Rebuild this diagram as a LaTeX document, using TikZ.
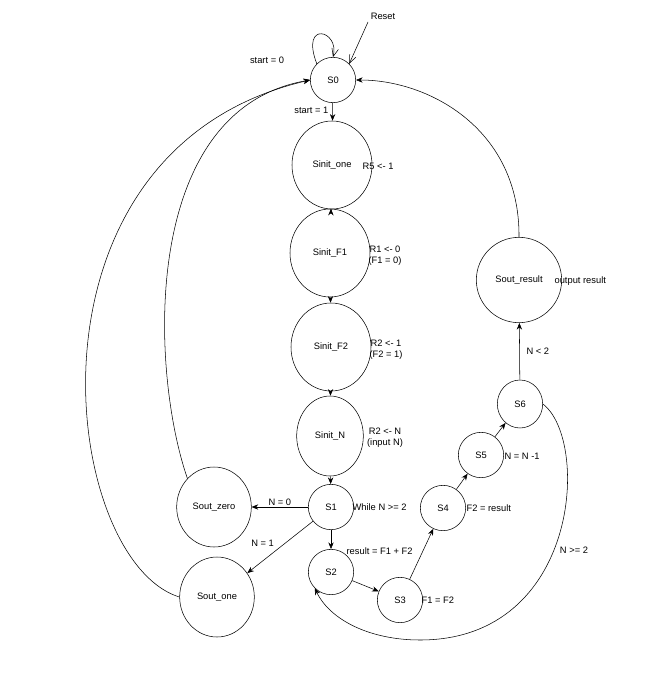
\documentclass[tikz,border=0pt]{standalone}
\usepackage{fontspec}
\setmainfont{Liberation Sans}
\usetikzlibrary{arrows.meta,shapes.geometric}
\begin{document}
\begin{tikzpicture}[x=0.75pt,y=-0.75pt,
  st/.style={draw,ellipse,minimum width=#1,minimum height=34,inner sep=0pt},
  st/.default=34,
  big/.style={draw,ellipse,minimum width=60,minimum height=66,inner sep=0pt},
  lab/.style={inner sep=1pt,align=center},
  every node/.append style={font=\fontsize{7}{8.5}\selectfont},
  ar/.style={-{Stealth[length=5pt,width=4pt]}},
  oar/.style={-{Straight Barb[open,length=6pt,width=5pt]}}]
\useasboundingbox (0,0) rectangle (663,675);
\node[st] (s0) at (333,80) {S0};
\node[big] (i1) at (332,165) {Sinit\_one};
\node[big] (i2) at (330,253) {Sinit\_F1};
\node[big] (i3) at (331,347) {Sinit\_F2};
\node[big,minimum width=50,minimum height=60] (i4) at (330,436) {Sinit\_N};
\node[st] (s1) at (331,507) {S1};
\node[big,minimum width=56,minimum height=60] (oz) at (214,507) {Sout\_zero};
\node[big,minimum width=56,minimum height=60] (oo) at (217,597) {Sout\_one};
\node[st] (s2) at (331,572) {S2};
\node[st] (s3) at (400,600) {S3};
\node[st] (s4) at (443,508) {S4};
\node[st] (s5) at (481,455) {S5};
\node[st,minimum height=36] (s6) at (520,404) {S6};
\node[big,minimum width=64,minimum height=64] (or) at (519,280) {Sout\_result};
\coordinate (rs) at (368,22);
\node[lab] (treset) at (383,16) {Reset};
\draw[oar] (rs) -- (s0.north east);
\draw[oar] (s0.north west) .. controls (300,20) and (340,30) .. (s0.north);
\node[lab] (t0) at (267,60) {start = 0};
\draw[ar] (s0) -- (i1) node[lab,pos=0.4,left=2pt] {start = 1};
\draw[ar] (i1) -- (i2);
\draw[ar] (i2) -- (i3);
\draw[ar] (i3) -- (i4);
\draw[ar] (i4) -- (s1);
\draw[ar] (s1) -- (s2);
\draw[ar] (s1) -- (oz) node[lab,midway,above] {N = 0};
\draw[ar] (s1) -- (oo) node[lab,pos=0.55,above left=1pt] {N = 1};
\draw[ar] (s2) -- (s3);
\draw[ar] (s3) -- (s4);
\draw[ar] (s4) -- (s5);
\draw[ar] (s5) -- (s6);
\draw[ar] (s6) -- (or) node[lab,midway,right=4pt] {N < 2};
\draw[ar] (oz.north west) .. controls (150,370) and (140,110) .. (s0.west);
\draw[ar] (oo.west) .. controls (60,560) and (10,150) .. (s0.west);
\draw[ar] (or.north) .. controls (520,130) and (430,80) .. (s0.east);
\draw[ar] (s6.east) .. controls (590,440) and (580,640) .. (420,640) .. controls (370,640) and (330,620) .. (s2.south west);
\node[lab,anchor=west] (a1) at (361,166) {R5 <- 1};
\node[lab] (a2) at (385,256) {R1 <- 0\\(F1 = 0)};
\node[lab] (a3) at (386,350) {R2 <- 1\\(F2 = 1)};
\node[lab] (a4) at (385,438) {R2 <- N\\(input N)};
\node[lab,anchor=west] (a5) at (351,507) {While N >= 2};
\node[lab,anchor=west] (a6) at (345,551) {result = F1 + F2};
\node[lab,anchor=west] (a7) at (420,600) {F1 = F2};
\node[lab,anchor=west] (a8) at (465,508) {F2 = result};
\node[lab,anchor=west] (a9) at (503,456) {N = N -1};
\node[lab,anchor=west] (a10) at (553,281) {output result};
\node[lab] (a11) at (574,550) {N >= 2};
\end{tikzpicture}
\end{document}
